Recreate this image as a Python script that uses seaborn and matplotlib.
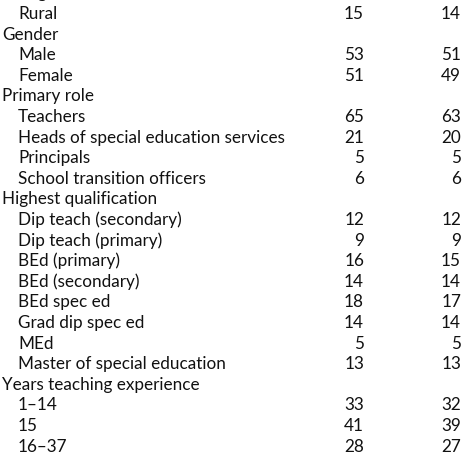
import matplotlib
matplotlib.use("Agg")
import matplotlib.pyplot as plt
import seaborn as sns

sns.set_theme(style="white")
plt.rcParams['font.family'] = ['Lato', 'DejaVu Sans']

labels = ["Regional", "Rural", "Gender", "Male", "Female", "Primary role", "Teachers",
          "Heads of special education services", "Principals", "School transition officers",
          "Highest qualification", "Dip teach (secondary)", "Dip teach (primary)",
          "BEd (primary)", "BEd (secondary)", "BEd spec ed", "Grad dip spec ed", "MEd",
          "Master of special education", "Years teaching experience", "1–14", "15", "16–37"]
is_header = [False, False, True, False, False, True, False, False, False, False,
             True, False, False, False, False, False, False, False, False, True, False, False, False]
counts = ["", "15", "", "53", "51", "", "65", "21", "5", "6", "", "12", "9", "16", "14",
          "18", "14", "5", "13", "", "33", "41", "28"]
percents = ["", "14", "", "51", "49", "", "63", "20", "5", "6", "", "12", "9", "15", "14",
            "17", "14", "5", "13", "", "32", "39", "27"]

fig = plt.figure(figsize=(4.74, 4.74), dpi=100)
ax = fig.add_axes([0, 0, 1, 1])
ax.set_xlim(0, 474)
ax.set_ylim(474, 0)
ax.axis("off")

y0, dy = -6.6, 20.6
fs = 12.3
for i, lab in enumerate(labels):
    y = y0 + i * dy
    ax.text(2 if is_header[i] else 18, y, lab, fontsize=fs, color="#111111", va="center", ha="left")
    if counts[i]:
        ax.text(364, y, counts[i], fontsize=fs, color="#111111", va="center", ha="right")
        ax.text(461, y, percents[i], fontsize=fs, color="#111111", va="center", ha="right")

fig.savefig("out.png", dpi=100)
